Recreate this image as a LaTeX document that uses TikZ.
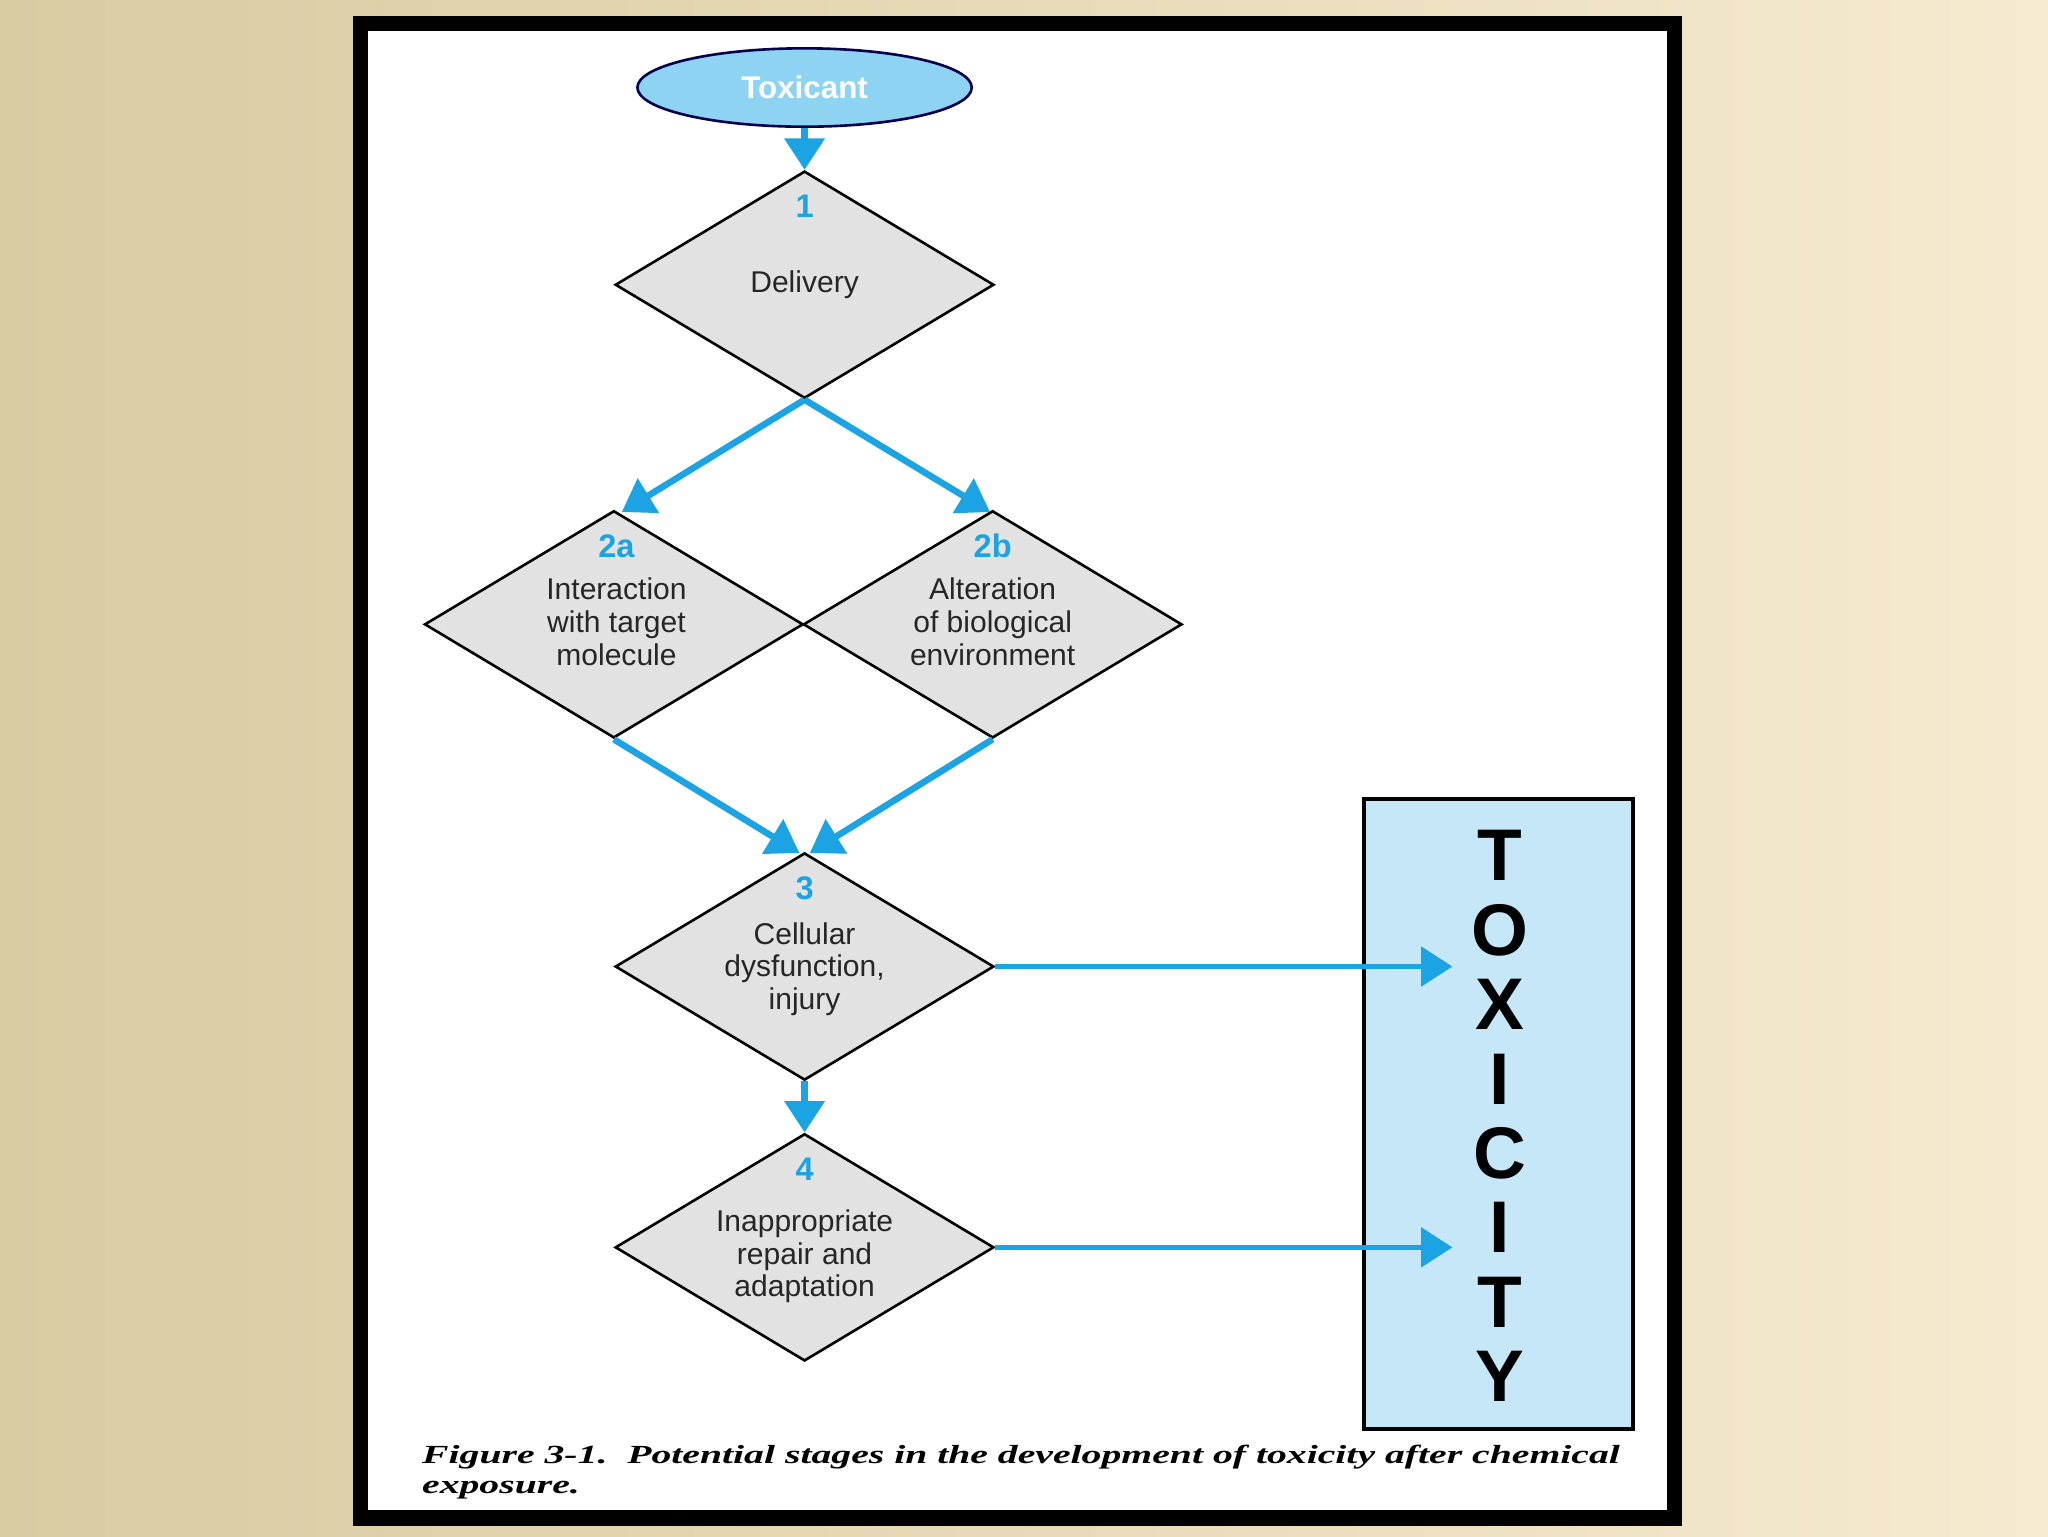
\documentclass[tikz,border=0pt]{standalone}
\usepackage{fontspec}
\setmainfont{Liberation Sans}
\newfontfamily\capfont{Liberation Serif}
\usetikzlibrary{shapes.geometric,arrows.meta}
\definecolor{bgL}{HTML}{D9CBA2}
\definecolor{bgR}{HTML}{F6EAD0}
\definecolor{arr}{HTML}{1CA3E3}
\definecolor{ell}{HTML}{8ED4F2}
\definecolor{dia}{HTML}{E2E2E2}
\definecolor{tox}{HTML}{C6E7F8}
\definecolor{num}{HTML}{1CA3E3}
\begin{document}
\begin{tikzpicture}[x=1pt,y=-1pt,
  dnode/.style={diamond,draw=black,line width=2pt,fill=dia,minimum width=290pt,minimum height=174pt,inner sep=0pt,aspect=1.67},
  conn/.style={draw=arr,line width=5pt,-{Triangle[length=24pt,width=30pt]}},
  lab/.style={font=\fontsize{23}{25}\selectfont,align=center,text=black!85},
  nlab/.style={font=\fontsize{25}{26}\selectfont\bfseries,text=num}]
\shade[left color=bgL,right color=bgR] (0,0) rectangle (1568,1176);
\useasboundingbox (0,0) rectangle (1568,1176);
\fill[black] (270,12) rectangle (1288,1168);
\fill[white] (282,24) rectangle (1276,1156);
\node[ellipse,draw=black!70!blue,line width=2pt,fill=ell,minimum width=256pt,minimum height=60pt,font=\fontsize{24}{26}\selectfont\bfseries,text=white] (t) at (616,67) {Toxicant};
\node[dnode] (d1) at (616,218) {};
\node[dnode] (d2a) at (470,478) {};
\node[dnode] (d2b) at (760,478) {};
\node[dnode] (d3) at (616,740) {};
\node[dnode] (d4) at (616,955) {};
\node[nlab] (n1) at (616,158) {1};
\node[lab] (l1) at (616,218) {Delivery};
\node[nlab] (n2a) at (472,418) {2a};
\node[lab] (l2a) at (472,476) {Interaction\\with target\\molecule};
\node[nlab] (n2b) at (760,418) {2b};
\node[lab] (l2b) at (760,476) {Alteration\\of biological\\environment};
\node[nlab] (n3) at (616,680) {3};
\node[lab] (l3) at (616,742) {Cellular\\dysfunction,\\injury};
\node[nlab] (n4) at (616,895) {4};
\node[lab] (l4) at (616,962) {Inappropriate\\repair and\\adaptation};
\node[draw=black,line width=3pt,fill=tox,minimum width=206pt,minimum height=482pt,inner sep=0pt] (tx) at (1147,853) {};
\foreach \c [count=\i] in {T,O,X,I,C,I,T,Y}
  \node[font=\fontsize{56}{56}\selectfont\bfseries] (tl\i) at (1148,598+57*\i) {\c};
\coordinate (a3) at (1112,740);
\coordinate (a4) at (1112,955);
\coordinate (t2a) at (476,392);
\coordinate (t2b) at (758,392);
\coordinate (t3a) at (612,653);
\coordinate (t3b) at (620,653);
\draw[conn] (t.south) -- (d1.north);
\draw[conn] (d1.south) -- (t2a);
\draw[conn] (d1.south) -- (t2b);
\draw[conn] (d2a.south) -- (t3a);
\draw[conn] (d2b.south) -- (t3b);
\draw[conn] (d3.south) -- (d4.north);
\draw[conn,line width=4pt] (d3.east) -- (a3);
\draw[conn,line width=4pt] (d4.east) -- (a4);
\node[anchor=west,align=left,inner sep=0pt] (cap) at (323,1127) {\scalebox{1.52}[1]{\parbox{700pt}{\capfont\fontsize{20}{23}\selectfont\bfseries\itshape Figure 3-1.\ \ Potential stages in the development of toxicity after chemical\\exposure.}}};
\end{tikzpicture}
\end{document}
